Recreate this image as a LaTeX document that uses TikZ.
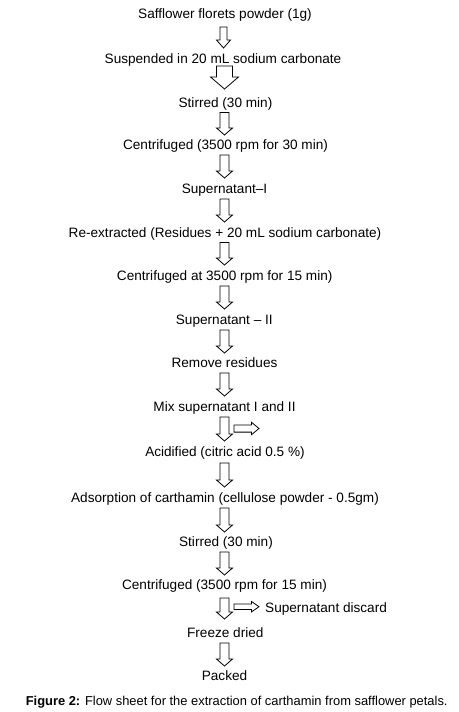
\documentclass[tikz,border=0pt]{standalone}
\usepackage{fontspec}
\setmainfont{Liberation Sans}
\newcommand\blkdown[6]{% x, top, headstart, tip, shafthalf, headhalf
  \draw[blk] (#1-#5,#2) -- (#1+#5,#2) -- (#1+#5,#3) -- (#1+#6,#3) -- (#1,#4) -- (#1-#6,#3) -- (#1-#5,#3) -- cycle;}
\newcommand\blkright[6]{% y, left, headstart, tip, shafthalf, headhalf
  \draw[blk] (#2,#1-#5) -- (#3,#1-#5) -- (#3,#1-#6) -- (#4,#1) -- (#3,#1+#6) -- (#3,#1+#5) -- (#2,#1+#5) -- cycle;}
\begin{document}
\begin{tikzpicture}[x=1pt,y=-1pt,
  lbl/.style={anchor=base,inner sep=0pt,font=\fontsize{13.6}{16}\selectfont},
  captext/.style={anchor=base,inner sep=0pt,font=\fontsize{12.9}{15}\selectfont},
  blk/.style={draw=black,fill=white,line width=0.8pt,line join=miter}]
\useasboundingbox (0,0) rectangle (458,712);
\node[lbl] (n1) at (225,19) {Safflower florets powder (1g)};
\node[lbl] (n2) at (223,63) {Suspended in 20 mL sodium carbonate};
\node[lbl] (n3) at (225.5,107) {Stirred (30 min)};
\node[lbl] (n4) at (225.5,149) {Centrifuged (3500 rpm for 30 min)};
\node[lbl] (n5) at (224.5,193) {Supernatant--I};
\node[lbl] (n6) at (225,237) {Re-extracted (Residues + 20 mL sodium carbonate)};
\node[lbl] (n7) at (224.7,280) {Centrifuged at 3500 rpm for 15 min)};
\node[lbl] (n8) at (224.3,324) {Supernatant -- II};
\node[lbl] (n9) at (224.5,367) {Remove residues};
\node[lbl] (n10) at (224.5,411) {Mix supernatant I and II};
\node[lbl] (n11) at (225,456) {Acidified (citric acid 0.5 \%)};
\node[lbl] (n12) at (225,502) {Adsorption of carthamin (cellulose powder - 0.5gm)};
\node[lbl] (n13) at (226,546) {Stirred (30 min)};
\node[lbl] (n14) at (224.5,589) {Centrifuged (3500 rpm for 15 min)};
\node[lbl,anchor=base west] (n14b) at (265,612) {Supernatant discard};
\node[lbl] (n15) at (225.3,637) {Freeze dried};
\node[lbl] (n16) at (224.5,680) {Packed};
\node[captext] (capt) at (236.7,705) {\textbf{Figure 2:} Flow sheet for the extraction of carthamin from safflower petals.};
% block arrows
\blkdown{223.5}{27}{40}{48}{3.5}{7}
\blkdown{224.5}{66}{77}{89}{8}{14}
\blkdown{224.5}{112.5}{128}{135}{4.5}{8}
\blkdown{224.5}{155}{171}{178}{4.5}{8}
\blkdown{224.5}{199}{215}{222}{4.5}{8}
\blkdown{224.5}{242.5}{258}{265}{4.5}{8}
\blkdown{224.5}{286}{302}{309}{4.5}{8}
\blkdown{224.5}{330}{346}{353}{4.5}{8}
\blkdown{224.5}{373}{389}{396}{4.5}{8}
\blkdown{224.5}{417}{434}{441}{4.5}{8}
\blkright{428.5}{234}{251.5}{259}{3.6}{6.2}
\blkdown{224.5}{463}{480}{487}{4.5}{8}
\blkdown{224.5}{508}{525}{532}{4.5}{8}
\blkdown{224.5}{552}{568}{575}{4.5}{8}
\blkdown{224.5}{598}{612}{619}{4.5}{8}
\blkright{606.7}{234}{251.5}{259}{2.8}{5.2}
\blkdown{224.5}{643}{659}{666}{4.5}{8}
\end{tikzpicture}
\end{document}
